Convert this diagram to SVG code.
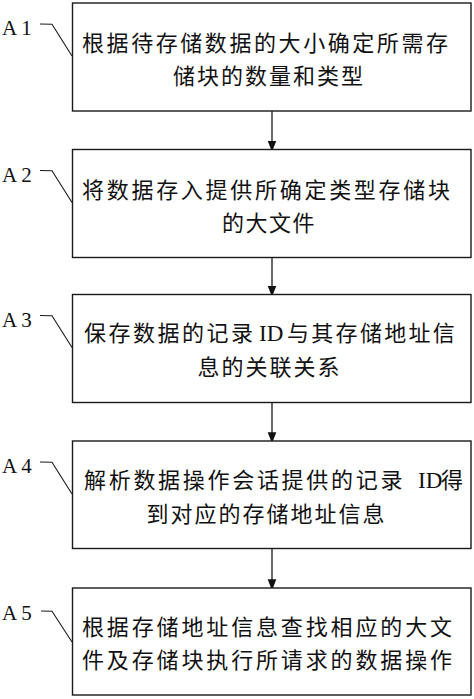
<svg xmlns="http://www.w3.org/2000/svg" width="474" height="699" viewBox="0 0 474 699">
<style>
.box{fill:#fff;stroke:#1a1a1a;stroke-width:1.4}
.t{font-family:"Liberation Serif","Noto Sans CJK SC",serif;font-size:22px;fill:#111}
.l2{letter-spacing:2px}
.id{font-family:"Liberation Serif",serif;font-size:23px;letter-spacing:0}
.lbl{font-family:"Liberation Serif",serif;font-size:21px;fill:#111;letter-spacing:4px}
.lead{fill:none;stroke:#1a1a1a;stroke-width:1.1}
.c{stroke:#1a1a1a;stroke-width:1.3;fill:none}
</style>
<defs>
<marker id="ah" markerWidth="11" markerHeight="14" refX="11" refY="5.5" orient="auto" markerUnits="userSpaceOnUse" viewBox="0 0 14 11">
<path d="M0,0 L14,5.5 L0,11 Z" fill="#111"/>
</marker>
</defs>
<rect width="474" height="699" fill="#fff"/>
<g id="connectors">
<line class="c" x1="272" y1="111" x2="272" y2="149.5" marker-end="url(#ah)"/>
<line class="c" x1="272" y1="257.5" x2="272" y2="294.5" marker-end="url(#ah)"/>
<line class="c" x1="272" y1="402.5" x2="272" y2="441" marker-end="url(#ah)"/>
<line class="c" x1="272" y1="548.5" x2="272" y2="588" marker-end="url(#ah)"/>
</g>
<g id="A1">
<rect class="box" x="72.5" y="3" width="398.5" height="108"/>
<text class="lbl" x="2" y="35">A1</text>
<path class="lead" d="M40,24 L52,24.3 L72,56"/>
<text class="t" x="82" y="51" textLength="366" lengthAdjust="spacing">根据待存储数据的大小确定所需存</text>
<text class="t l2" x="269" y="84" text-anchor="middle">储块的数量和类型</text>
</g>
<g id="A2">
<rect class="box" x="72.5" y="149.5" width="398.5" height="108"/>
<text class="lbl" x="2" y="181.5">A2</text>
<path class="lead" d="M40,170.5 L52,170.8 L72,202.5"/>
<text class="t" x="82" y="197.5" textLength="368" lengthAdjust="spacing">将数据存入提供所确定类型存储块</text>
<text class="t" x="269" y="230.5" text-anchor="middle" letter-spacing="1.5">的大文件</text>
</g>
<g id="A3">
<rect class="box" x="72.5" y="294.5" width="398.5" height="108"/>
<text class="lbl" x="2" y="326.5">A3</text>
<path class="lead" d="M40,315.5 L52,315.8 L72,347.5"/>
<text class="t" x="84" y="341" letter-spacing="2.5">保存数据的记录<tspan class="id" x="259">ID</tspan><tspan x="287" letter-spacing="2.3">与其存储地址信</tspan></text>
<text class="t l2" x="269.5" y="375" text-anchor="middle">息的关联关系</text>
</g>
<g id="A4">
<rect class="box" x="72.5" y="441" width="398.5" height="107.5"/>
<text class="lbl" x="2" y="473">A4</text>
<path class="lead" d="M40,462 L52,462.3 L72,494"/>
<text class="t" x="84" y="488" letter-spacing="2.7">解析数据操作会话提供的记录 <tspan class="id" x="418">ID</tspan><tspan x="441" letter-spacing="0">得</tspan></text>
<text class="t l2" x="266.5" y="521.5" text-anchor="middle">到对应的存储地址信息</text>
</g>
<g id="A5">
<rect class="box" x="72.5" y="588" width="398.5" height="107"/>
<text class="lbl" x="2" y="619.5">A5</text>
<path class="lead" d="M41,611 L52,611.3 L72,642"/>
<text class="t" x="82" y="635" textLength="370" lengthAdjust="spacing">根据存储地址信息查找相应的大文</text>
<text class="t" x="82" y="668" textLength="370" lengthAdjust="spacing">件及存储块执行所请求的数据操作</text>
</g>
</svg>
